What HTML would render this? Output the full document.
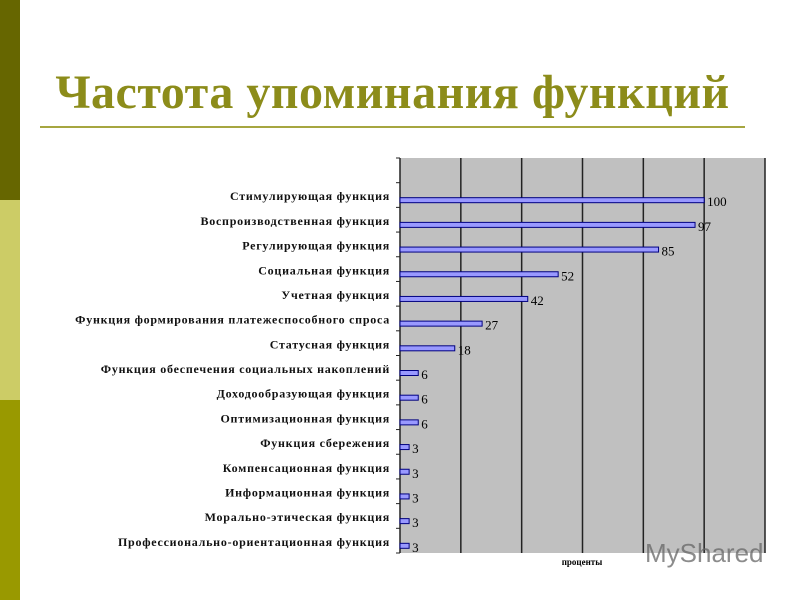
<!DOCTYPE html>
<html><head><meta charset="utf-8"><style>
body{margin:0;width:800px;height:600px;background:#fff;overflow:hidden;position:relative;font-family:"Liberation Serif",serif}
.s{position:absolute;left:0;width:20px}
</style></head><body>
<div class="s" style="top:0;height:200px;background:#666600"></div>
<div class="s" style="top:200px;height:200px;background:#cccc66"></div>
<div class="s" style="top:400px;height:200px;background:#999900"></div>
<div style="position:absolute;left:40px;width:705px;top:65px;text-align:center;font:bold 48px 'Liberation Serif',serif;letter-spacing:0.5px;color:#8c8c1a;">Частота упоминания функций</div>
<div style="position:absolute;left:40px;top:126px;width:705px;height:2px;background:#a6a640"></div>
<svg id="chart" width="800" height="600" style="position:absolute;left:0;top:0"></svg>
<script>
const categories=["Стимулирующая функция","Воспроизводственная функция","Регулирующая функция","Социальная функция","Учетная функция","Функция формирования платежеспособного спроса","Статусная функция","Функция обеспечения социальных накоплений","Доходообразующая функция","Оптимизационная функция","Функция сбережения","Компенсационная функция","Информационная функция","Морально-этическая функция","Профессионально-ориентационная функция"];
const values=[100,97,85,52,42,27,18,6,6,6,3,3,3,3,3];
const xTicks=[0,20,40,60,80,100,120];
const NS="http://www.w3.org/2000/svg";
const svg=document.getElementById('chart');
const X0=400,X1=765,Y0=158,Y1=553,band=(Y1-Y0)/16;
function x(v){return X0+(v-0)/(120-0)*(X1-X0);}
function yc(i){return Y0+(i+1)*band+17.5;}
function mk(t,a){const e=document.createElementNS(NS,t);for(const k in a)e.setAttribute(k,a[k]);svg.appendChild(e);return e;}
let r=mk('rect',{x:X0,y:Y0,width:X1-X0,height:Y1-Y0,fill:'#c0c0c0'});


xTicks.forEach(t=>{if(t===0)return;const l=mk('line',{x1:x(t),x2:x(t),y1:Y0,y2:Y1,stroke:'#222','stroke-width':1.5});

});
let ax=mk('line',{x1:X0,x2:X0,y1:Y0,y2:Y1,stroke:'#222','stroke-width':1.5});


for(let i=0;i<=16;i++){const t=mk('line',{x1:X0-4,x2:X0,y1:Y0+i*band,y2:Y0+i*band,stroke:'#222','stroke-width':1});

}
categories.forEach((c,i)=>{
 const y=yc(i);
 const b=mk('rect',{x:X0,y:y-2.5,width:x(values[i])-X0,height:5,fill:'#9999ff',stroke:'#000080','stroke-width':1});
 
 
 const v=mk('text',{x:x(values[i])+3,y:y+6,'font-size':13,'font-family':'Liberation Serif, serif',fill:'#000'});
 v.textContent=values[i];
 
 
 const t=mk('text',{x:390,y:y,'text-anchor':'end','font-size':12,'font-weight':'bold','letter-spacing':'0.75','font-family':'Liberation Serif, serif',fill:'#111'});
 t.textContent=c;
 
 
});
const xt=mk('text',{x:582,y:565,'text-anchor':'middle','font-size':9,'font-weight':'bold','font-family':'Liberation Serif, serif',fill:'#000'});
xt.textContent='проценты';


const wm=mk('text',{x:645,y:562,'font-size':26,'font-family':'Liberation Sans, sans-serif',fill:'#666','fill-opacity':0.75});
wm.textContent='MyShared';


</script>
</body></html>
